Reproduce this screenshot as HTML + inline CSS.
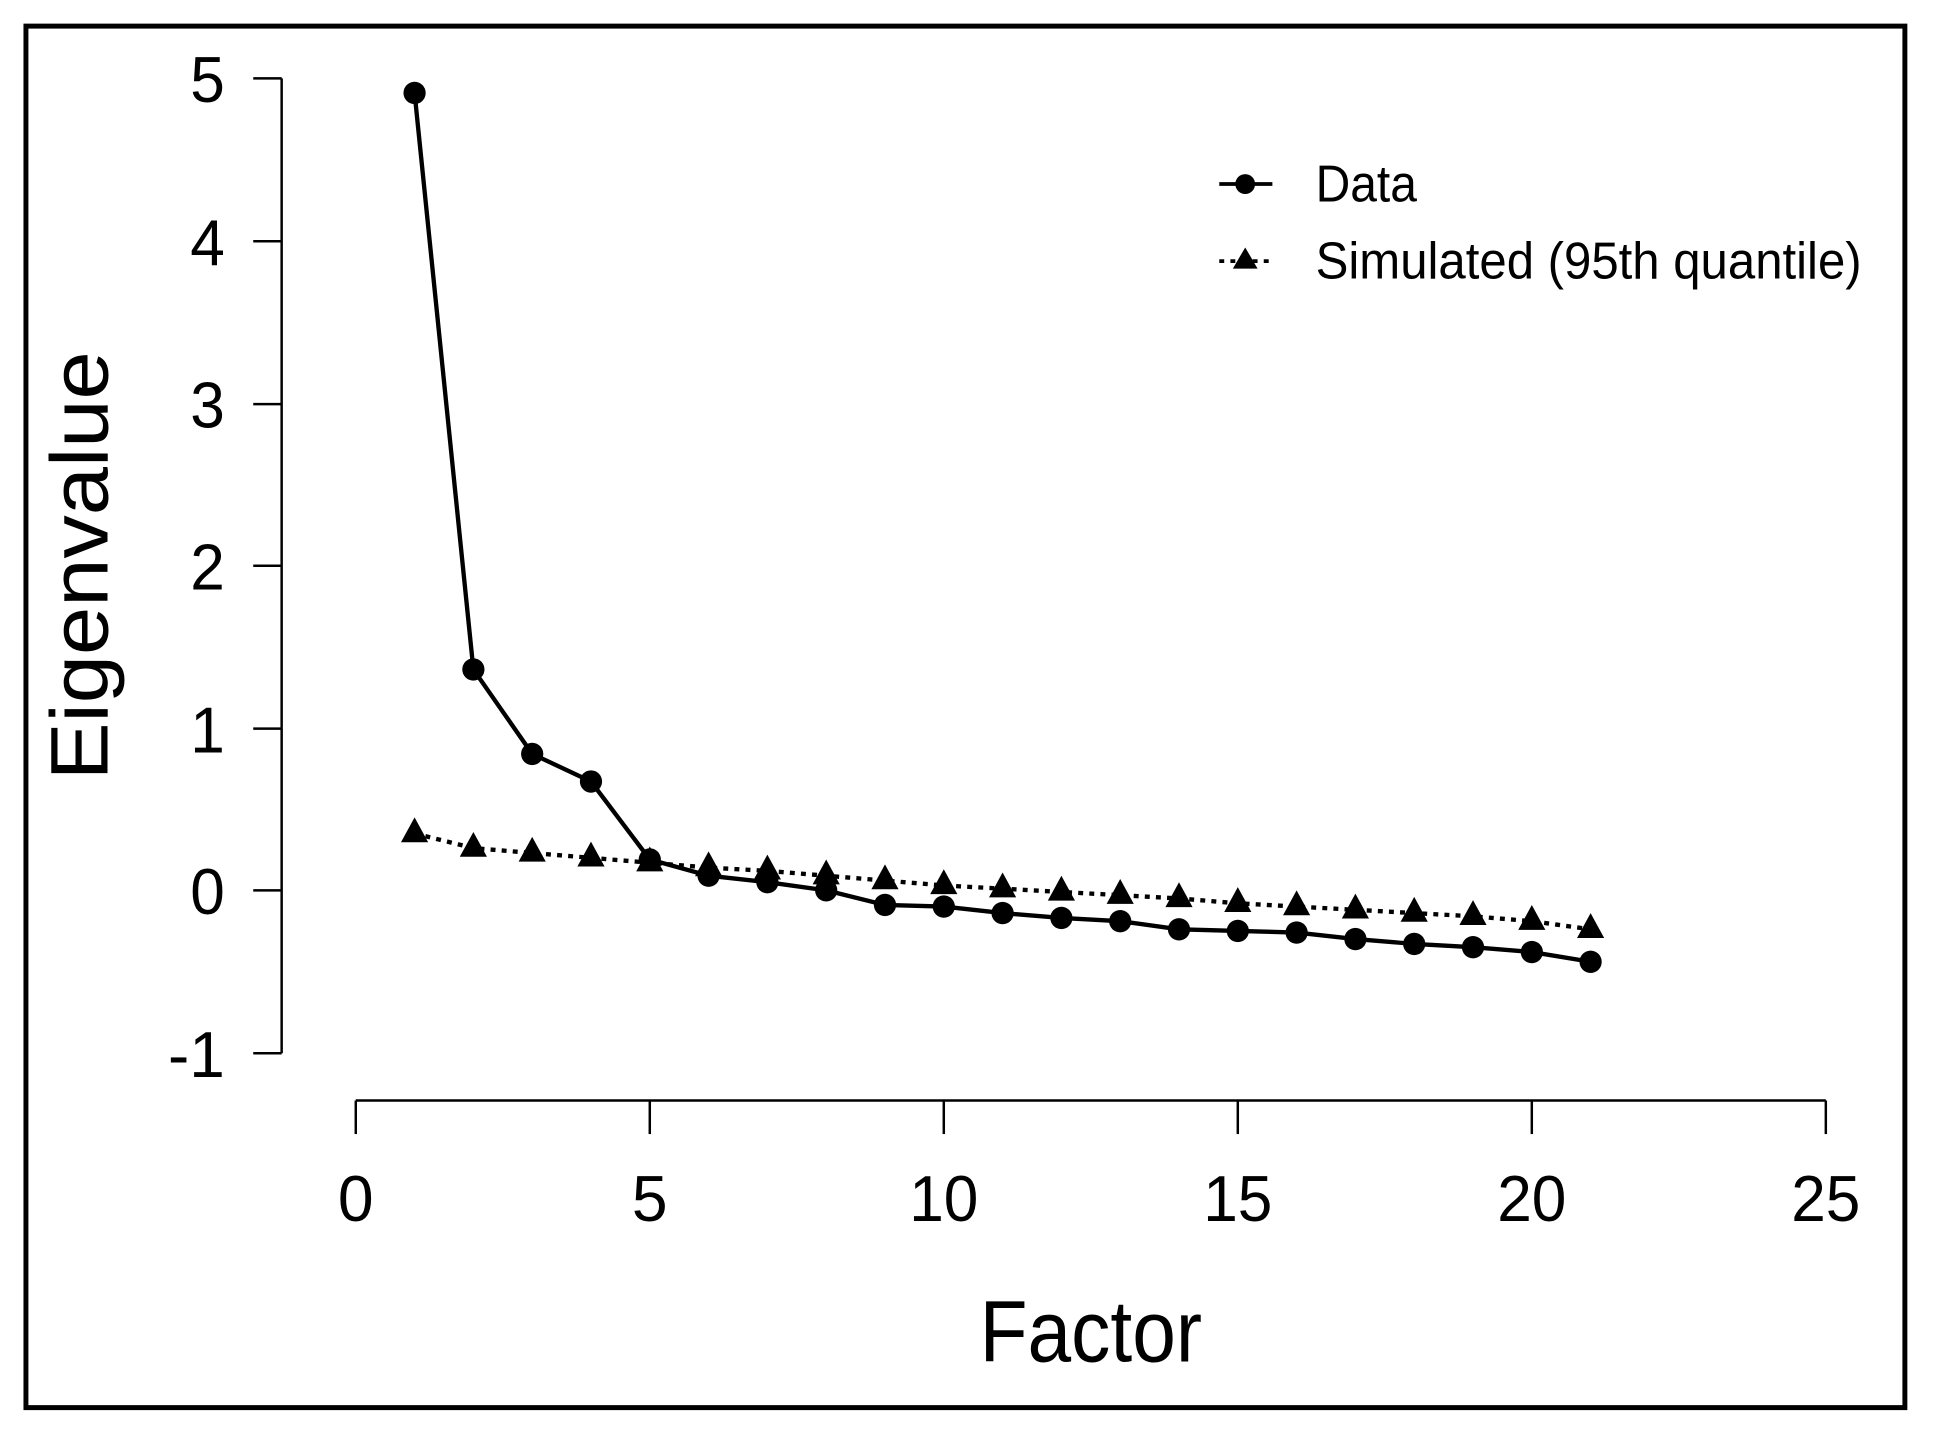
<!DOCTYPE html>
<html><head><meta charset="utf-8"><style>
html,body{margin:0;padding:0;background:#fff;}
svg{display:block;}
text{font-family:"Liberation Sans",Arial,sans-serif;fill:#000;}
</style></head><body>
<svg id="s" width="1937" height="1430" viewBox="0 0 1568 1150" preserveAspectRatio="none" xmlns="http://www.w3.org/2000/svg">
<rect x="21" y="21" width="1521" height="1111" fill="#fff" stroke="#000" stroke-width="4"/>
<g stroke="#000" stroke-width="2" fill="none">
<line x1="228" y1="63" x2="228" y2="847"/>
<line x1="205" y1="63" x2="228" y2="63"/>
<line x1="205" y1="194" x2="228" y2="194"/>
<line x1="205" y1="325" x2="228" y2="325"/>
<line x1="205" y1="455" x2="228" y2="455"/>
<line x1="205" y1="586" x2="228" y2="586"/>
<line x1="205" y1="716" x2="228" y2="716"/>
<line x1="205" y1="847" x2="228" y2="847"/>
<line x1="288" y1="885" x2="1478" y2="885"/>
<line x1="288" y1="885" x2="288" y2="912"/>
<line x1="526" y1="885" x2="526" y2="912"/>
<line x1="764" y1="885" x2="764" y2="912"/>
<line x1="1002" y1="885" x2="1002" y2="912"/>
<line x1="1240" y1="885" x2="1240" y2="912"/>
<line x1="1478" y1="885" x2="1478" y2="912"/>
</g>
<g font-size="52" text-anchor="end">
<text x="182" y="82" textLength="28" lengthAdjust="spacingAndGlyphs">5</text>
<text x="182" y="213" textLength="28" lengthAdjust="spacingAndGlyphs">4</text>
<text x="182" y="344" textLength="28" lengthAdjust="spacingAndGlyphs">3</text>
<text x="182" y="474" textLength="28" lengthAdjust="spacingAndGlyphs">2</text>
<text x="182" y="605" textLength="28" lengthAdjust="spacingAndGlyphs">1</text>
<text x="182" y="735" textLength="28" lengthAdjust="spacingAndGlyphs">0</text>
<text x="182" y="866" textLength="46" lengthAdjust="spacingAndGlyphs">-1</text>
</g>
<g font-size="52" text-anchor="middle">
<text x="288" y="982">0</text>
<text x="526" y="982">5</text>
<text x="764" y="982" textLength="56" lengthAdjust="spacingAndGlyphs">10</text>
<text x="1002" y="982" textLength="56" lengthAdjust="spacingAndGlyphs">15</text>
<text x="1240" y="982" textLength="56" lengthAdjust="spacingAndGlyphs">20</text>
<text x="1478" y="982" textLength="56" lengthAdjust="spacingAndGlyphs">25</text>
</g>
<text x="883" y="1095" font-size="70" text-anchor="middle" textLength="180" lengthAdjust="spacingAndGlyphs">Factor</text>
<text transform="translate(87,455) rotate(-90)" font-size="66" text-anchor="middle" textLength="345" lengthAdjust="spacingAndGlyphs">Eigenvalue</text>
<g id="series"></g>
<line x1="987" y1="148" x2="1030" y2="148" stroke="#000" stroke-width="3"/>
<circle cx="1008" cy="148" r="8"/>
<line x1="987" y1="210" x2="1030" y2="210" stroke="#000" stroke-width="3" stroke-dasharray="4,5"/>
<polygon points="1008,199 1018,216 998,216"/>
<text x="1065" y="162" font-size="42" textLength="82" lengthAdjust="spacingAndGlyphs">Data</text>
<text x="1065" y="224" font-size="42" textLength="442" lengthAdjust="spacingAndGlyphs">Simulated (95th quantile)</text>
</svg>
<script>
var d=[4.91,1.36,0.84,0.67,0.19,0.09,0.05,0.0,-0.09,-0.10,-0.14,-0.17,-0.19,-0.24,-0.25,-0.26,-0.30,-0.33,-0.35,-0.38,-0.44];
var s=[0.35,0.26,0.23,0.20,0.17,0.14,0.12,0.09,0.06,0.03,0.01,-0.01,-0.03,-0.05,-0.08,-0.10,-0.12,-0.14,-0.16,-0.19,-0.24];
function X(i){return 288+i*47.6;}function Y(v){return 716-v*130.6;}
var h='',p1='',p2='';
for(var i=0;i<21;i++){var x=X(i+1);p1+=x+','+Y(d[i])+' ';p2+=x+','+Y(s[i])+' ';}
h+='<polyline points="'+p2+'" fill="none" stroke="#000" stroke-width="3.5" stroke-dasharray="4,5"/>';
h+='<polyline points="'+p1+'" fill="none" stroke="#000" stroke-width="3.5"/>';
for(var i=0;i<21;i++){var x=X(i+1),y=Y(s[i]);h+='<polygon points="'+x+','+(y-13)+' '+(x+11)+','+(y+7)+' '+(x-11)+','+(y+7)+'"/>';}
for(var i=0;i<21;i++){h+='<circle cx="'+X(i+1)+'" cy="'+Y(d[i])+'" r="9"/>';}
document.getElementById('series').innerHTML=h;
</script>
</body></html>
